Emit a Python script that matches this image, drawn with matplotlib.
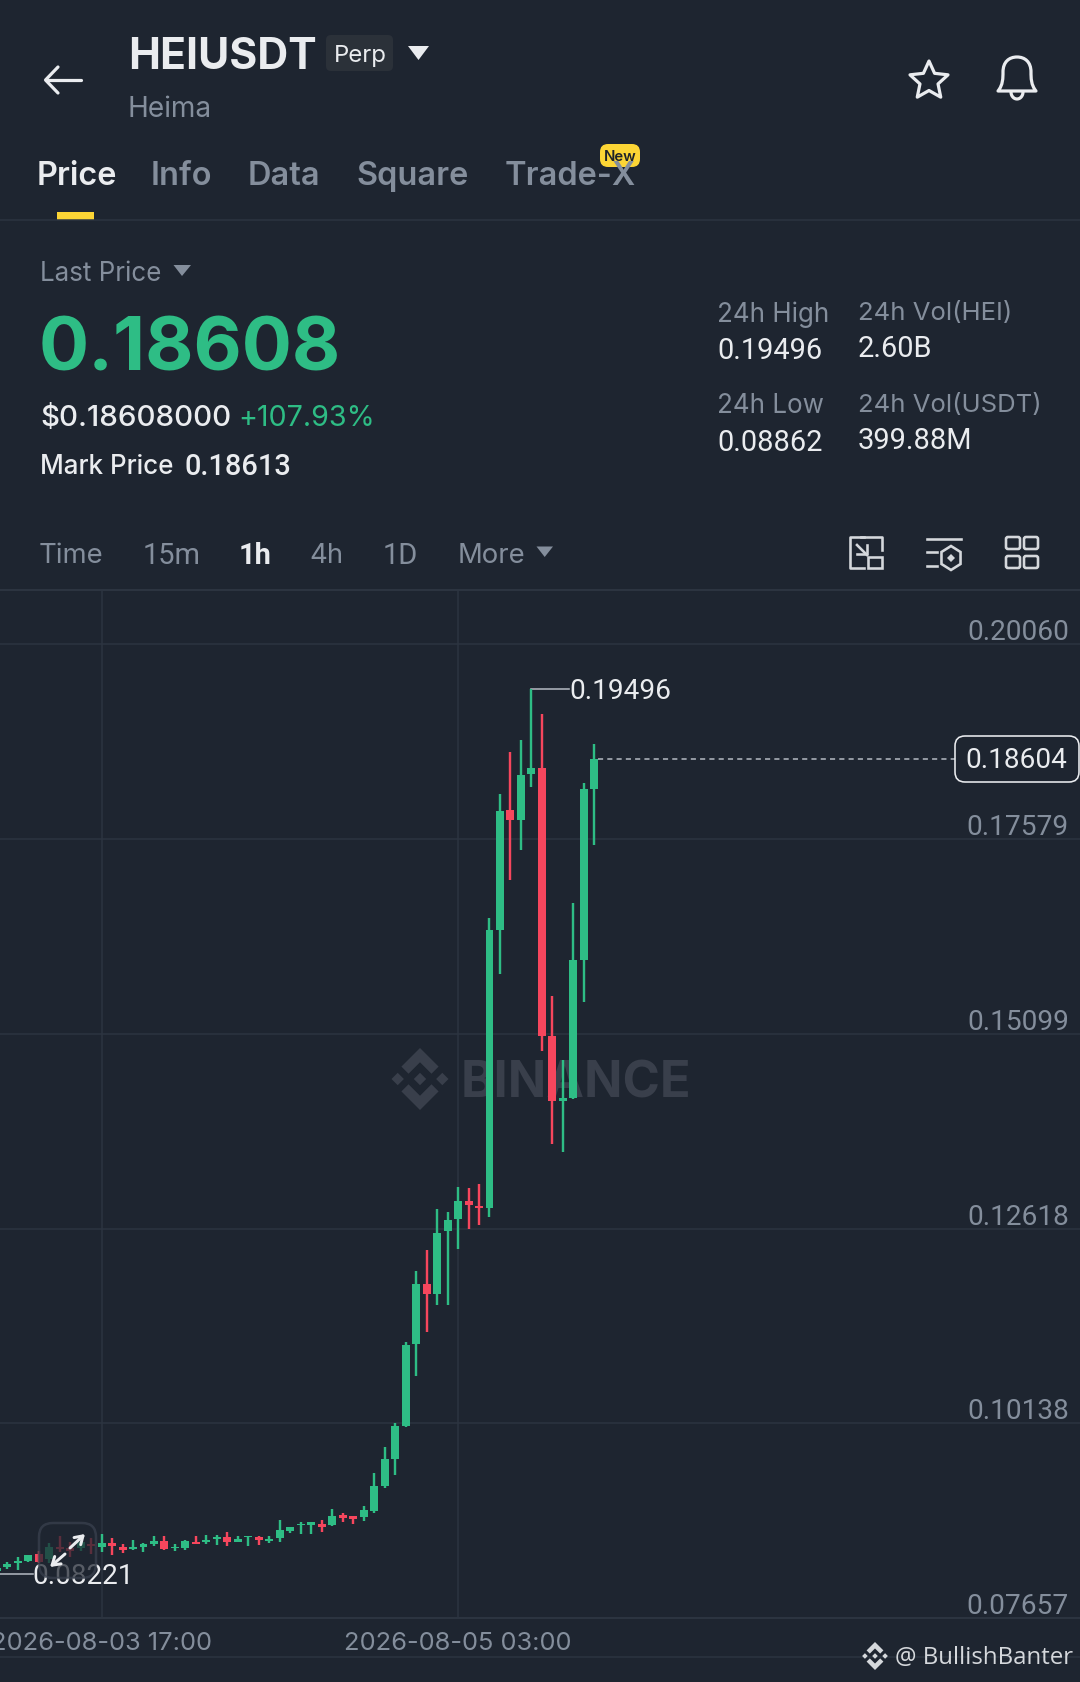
import matplotlib
matplotlib.use('Agg')
import matplotlib.pyplot as plt
from matplotlib.patches import FancyBboxPatch, Polygon, PathPatch, Rectangle
from matplotlib.path import Path
from matplotlib.transforms import ScaledTranslation
import numpy as np

BG = '#1E2530'
GRID = '#2C3440'
GREEN = '#2EBD85'
RED = '#F6465D'
GRAY = '#848E9C'
WHITE = '#EAECEF'
YELLOW = '#FCD535'
WATERMARK = '#393F4B'
NUM = ['Roboto', 'DejaVu Sans']

plt.rcParams['font.family'] = ['Inter', 'Roboto', 'DejaVu Sans']

# hourly candles, oldest first
opens = [0.08261, 0.08308, 0.08363, 0.08380, 0.08469, 0.08406, 0.08563, 0.08554, 0.08546, 0.08601,
         0.08567, 0.08614, 0.08563, 0.08537, 0.08567, 0.08597, 0.08635, 0.08546, 0.08546, 0.08627,
         0.08627, 0.08661, 0.08695, 0.08627, 0.08690, 0.08695, 0.08644, 0.08673, 0.08771, 0.08839,
         0.08843, 0.08852, 0.08839, 0.08966, 0.08958, 0.08941, 0.09026, 0.09340, 0.09688, 0.10104,
         0.11144, 0.11909, 0.11790, 0.12584, 0.12741, 0.12975, 0.12911, 0.12885, 0.16423, 0.17948,
         0.17825, 0.18407, 0.18483, 0.15077, 0.14249, 0.14279, 0.16046, 0.18220]
highs = [0.08300, 0.08376, 0.08440, 0.08461, 0.08516, 0.08618, 0.08703, 0.08631, 0.08673, 0.08673,
         0.08729, 0.08673, 0.08597, 0.08648, 0.08618, 0.08703, 0.08703, 0.08597, 0.08648, 0.08703,
         0.08712, 0.08716, 0.08750, 0.08703, 0.08707, 0.08707, 0.08699, 0.08907, 0.08798, 0.08881,
         0.08855, 0.08907, 0.09043, 0.08996, 0.08958, 0.09089, 0.09510, 0.09841, 0.10147, 0.11170,
         0.12074, 0.12346, 0.12864, 0.12826, 0.13144, 0.13132, 0.13183, 0.16572, 0.18152, 0.18691,
         0.18844, 0.19496, 0.19171, 0.15583, 0.14763, 0.16763, 0.18296, 0.18789]
lows = [0.08244, 0.08283, 0.08266, 0.08368, 0.08355, 0.08355, 0.08503, 0.08436, 0.08516, 0.08474,
        0.08499, 0.08461, 0.08486, 0.08525, 0.08495, 0.08580, 0.08529, 0.08508, 0.08529, 0.08601,
        0.08601, 0.08593, 0.08580, 0.08627, 0.08580, 0.08584, 0.08610, 0.08631, 0.08745, 0.08729,
        0.08729, 0.08754, 0.08830, 0.08881, 0.08860, 0.08898, 0.09000, 0.09319, 0.09480, 0.10087,
        0.10745, 0.11306, 0.11645, 0.11645, 0.12363, 0.12614, 0.12669, 0.12762, 0.15859, 0.17056,
        0.17447, 0.18249, 0.14882, 0.13702, 0.13600, 0.14266, 0.15511, 0.17502]
closes = [0.08300, 0.08351, 0.08389, 0.08461, 0.08372, 0.08563, 0.08539, 0.08516, 0.08624, 0.08580,
          0.08614, 0.08579, 0.08525, 0.08563, 0.08597, 0.08635, 0.08542, 0.08567, 0.08635, 0.08605,
          0.08656, 0.08686, 0.08627, 0.08665, 0.08703, 0.08652, 0.08669, 0.08775, 0.08822, 0.08856,
          0.08881, 0.08818, 0.08958, 0.08932, 0.08924, 0.09034, 0.09340, 0.09684, 0.10104, 0.11140,
          0.11909, 0.11790, 0.12567, 0.12733, 0.12975, 0.12915, 0.12877, 0.16419, 0.17939, 0.17821,
          0.18402, 0.18483, 0.15073, 0.14249, 0.14279, 0.16037, 0.18220, 0.18604]

price_ticks = [0.07657, 0.10138, 0.12618, 0.15099, 0.17579, 0.20060]
time_ticks = [10, 44]
time_labels = ['2026-08-03 17:00', '2026-08-05 03:00']
last_price = 0.18604
high_price = 0.19496
low_price = 0.08221

W, H = 1080, 1682
fig = plt.figure(figsize=(W / 100, H / 100), dpi=100, facecolor=BG)


def pt(px):
    return px * 0.72


def full_axes(zorder):
    a = fig.add_axes([0, 0, 1, 1], zorder=zorder)
    a.set_xlim(0, W)
    a.set_ylim(H, 0)
    a.axis('off')
    a.patch.set_alpha(0)
    return a


def binance_logo(a, cx, cy, s, color, z=1):
    top = [(0, -1), (0.6, -0.4), (0.37, -0.17), (0, -0.54), (-0.37, -0.17), (-0.6, -0.4)]
    bottom = [(x, -y) for x, y in top]
    parts = [top, bottom]
    for dx in (-0.72, 0, 0.72):
        parts.append([(dx, -0.2), (dx + 0.2, 0), (dx, 0.2), (dx - 0.2, 0)])
    for part in parts:
        a.add_patch(Polygon([(cx + x * s, cy + y * s) for x, y in part], closed=True,
                            fc=color, ec='none', zorder=z))


# watermark sits under the candles
back = full_axes(0)
binance_logo(back, 420, 1079, 31, WATERMARK)
back.text(461, 1084, 'BINANCE', color=WATERMARK, fontsize=pt(50.5), fontweight='bold', va='center', ha='left')

# chart, pixel limits of the plot area
top_px, bottom_px = 590, 1618
px_per_price = 194.75 / 0.02481
ax = fig.add_axes([0, 1 - bottom_px / H, 1, (bottom_px - top_px) / H], zorder=1)
ax.patch.set_alpha(0)
ax.set_ylim(0.07657, 0.20060 + (644.5 - top_px) / px_per_price)
spacing = 10.485
ax.set_xlim(3.3 / spacing, (W + 3.3) / spacing)

idx = np.arange(len(opens))
o, h, l, c = map(np.array, (opens, highs, lows, closes))
colors = [GREEN if cl >= op else RED for op, cl in zip(o, c)]
ax.vlines(idx, l, h, colors=colors, lw=pt(2.4), zorder=3)
ax.bar(idx, np.abs(c - o), bottom=np.minimum(o, c), width=0.76, color=colors, zorder=3)

ax.set_yticks(price_ticks)
ax.set_yticklabels([f'{v:.5f}' for v in price_ticks], color=GRAY, fontsize=pt(28), family=NUM, ha='right', va='bottom')
ax.yaxis.tick_right()
ax.tick_params(axis='y', length=0, pad=-pt(11))
ax.set_xticks(time_ticks)
ax.set_xticklabels(time_labels, color=GRAY, fontsize=pt(25.5))
ax.tick_params(axis='x', length=0, pad=pt(14))
ax.grid(True, color=GRID, lw=pt(1.5), zorder=1)
for name, spine in ax.spines.items():
    spine.set_visible(name in ('top', 'bottom'))
    spine.set_color(GRID)
    spine.set_linewidth(pt(2))
for lab in ax.get_yticklabels():
    lab.set_transform(lab.get_transform() + ScaledTranslation(0, -2 / 100, fig.dpi_scale_trans))

# last price dashed line
ax.plot([idx[-1] + 0.38, 100], [last_price, last_price], color='#AEB4BC', lw=pt(1.6), dashes=(3.2, 2.6), zorder=2)

# high and low labels
high_i = int(np.argmax(h))
ax.plot([high_i, high_i + 3.6], [high_price, high_price], color='#AEB4BC', lw=pt(1.6), zorder=2)
ax.annotate(f'{high_price:.5f}', (high_i + 3.6, high_price), xytext=(0, -pt(3)), textcoords='offset points',
            color=WHITE, fontsize=pt(28), family=NUM, va='center', ha='left')
ax.plot([0.3, 3.45], [low_price, low_price], color='#AEB4BC', lw=pt(1.6), zorder=2)
ax.annotate(f'{low_price:.5f}', (3.45, low_price), xytext=(0, -pt(3)), textcoords='offset points',
            color=WHITE, fontsize=pt(28), family=NUM, va='center', ha='left')

# everything of the app around the chart
ui = full_axes(2)

# current price box
ui.add_patch(FancyBboxPatch((962, 743), 110, 32, boxstyle='round,pad=7,rounding_size=10',
                            fc=BG, ec=WHITE, lw=pt(1.6), zorder=3))
ui.text(1067, 760, f'{last_price:.5f}', color=WHITE, fontsize=pt(28), family=NUM, ha='right', va='center', zorder=4)

# expand button over the candles
ui.add_patch(FancyBboxPatch((49, 1533), 37, 35, boxstyle='round,pad=10,rounding_size=14',
                            fc=BG, ec='#3A424F', alpha=0.72, lw=pt(2.5), zorder=3))
ui.annotate('', xy=(50, 1567), xytext=(65, 1554), zorder=4,
            arrowprops=dict(arrowstyle='->,head_length=0.55,head_width=0.35', color=WHITE, lw=pt(3), shrinkA=0, shrinkB=0))
ui.annotate('', xy=(85, 1534), xytext=(70, 1548), zorder=4,
            arrowprops=dict(arrowstyle='->,head_length=0.55,head_width=0.35', color=WHITE, lw=pt(3), shrinkA=0, shrinkB=0))

# header
ui.text(128, 57, 'HEIUSDT', color=WHITE, fontsize=pt(42.7), fontweight='bold', va='center')
ui.add_patch(FancyBboxPatch((330, 39), 59, 28, boxstyle='round,pad=4,rounding_size=5', fc='#2B3139', ec='none'))
ui.text(334, 56, 'Perp', color=WHITE, fontsize=pt(24), va='center')
ui.add_patch(Polygon([(408, 46), (429, 46), (418.5, 60)], fc=WHITE, ec='none'))
ui.text(128, 109, 'Heima', color=GRAY, fontsize=pt(28), va='center')
ui.plot([81, 46], [80, 80], color=WHITE, lw=pt(3.2), solid_capstyle='round')
ui.plot([58, 45.5, 58], [67, 80, 93], color=WHITE, lw=pt(3.2), solid_capstyle='round', solid_joinstyle='round')

angles = np.deg2rad(np.arange(10) * 36 - 90)
radii = np.where(np.arange(10) % 2 == 0, 20, 9.5)
ui.add_patch(Polygon(np.c_[929 + radii * np.cos(angles), 81 + radii * np.sin(angles)], closed=True,
                     fc='none', ec=WHITE, lw=pt(3.2), joinstyle='round'))
bell = Path([(998, 91), (1003, 85), (1003, 78), (1003, 72), (1003, 62), (1009, 57), (1017, 57),
             (1025, 57), (1031, 62), (1031, 72), (1031, 78), (1031, 85), (1036, 91), (998, 91)],
            [Path.MOVETO] + [Path.CURVE4] * 12 + [Path.CLOSEPOLY])
ui.add_patch(PathPatch(bell, fc='none', ec=WHITE, lw=pt(3.2), joinstyle='round'))
clapper = np.linspace(0, np.pi, 20)
ui.plot(1017 + 6 * np.cos(clapper), 92 + 7 * np.sin(clapper), color=WHITE, lw=pt(3.2))

# tabs
tab_names = ['Price', 'Info', 'Data', 'Square', 'Trade-X']
tab_x = [37, 151, 248, 356, 505]
for name, x in zip(tab_names, tab_x):
    ui.text(x, 176, name, color=WHITE if name == 'Price' else GRAY, fontsize=pt(32.5), fontweight='semibold', va='center')
ui.add_patch(FancyBboxPatch((604, 148), 32, 15, boxstyle='round,pad=4,rounding_size=8', fc=YELLOW, ec='none'))
ui.text(620, 157, 'New', color='#1E2329', fontsize=pt(15), fontweight='semibold', ha='center', va='center')
ui.add_patch(Rectangle((57, 212), 37, 7.5, fc=YELLOW, ec='none'))
ui.plot([0, W], [220, 220], color=GRID, lw=pt(1.5))

# price block
ui.text(40, 274, 'Last Price', color=GRAY, fontsize=pt(26), va='center')
ui.add_patch(Polygon([(173.5, 265), (191, 265), (182, 276)], fc=GRAY, ec='none'))
ui.text(39, 351, '0.18608', color=GREEN, fontsize=pt(74.5), fontweight='bold', va='center')
ui.text(40, 418, '$0.18608000', color=WHITE, fontsize=pt(29.5), fontweight='medium', va='center')
ui.text(238, 418, '+107.93%', color=GREEN, fontsize=pt(28.6), va='center')
ui.text(40, 467, 'Mark Price', color=WHITE, fontsize=pt(26), fontweight='medium', va='center')
ui.text(184, 467, '0.18613', color=WHITE, fontsize=pt(29), family=NUM, fontweight='medium', va='center')

ui.text(717, 315, '24h High', color=GRAY, fontsize=pt(26), va='center')
ui.text(717, 351, '0.19496', color=WHITE, fontsize=pt(29), family=NUM, va='center')
ui.text(717, 406, '24h Low', color=GRAY, fontsize=pt(26), va='center')
ui.text(717, 443, '0.08862', color=WHITE, fontsize=pt(29), family=NUM, va='center')
ui.text(858, 313, '24h Vol(HEI)', color=GRAY, fontsize=pt(25.7), va='center')
ui.text(858, 349, '2.60B', color=WHITE, fontsize=pt(29), family=NUM, va='center')
ui.text(858, 405, '24h Vol(USDT)', color=GRAY, fontsize=pt(25.7), va='center')
ui.text(858, 441, '399.88M', color=WHITE, fontsize=pt(29), family=NUM, va='center')

# interval row
interval_names = ['Time', '15m', '1h', '4h', '1D', 'More']
interval_x = [39, 143, 239, 309, 383, 458]
for name, x in zip(interval_names, interval_x):
    ui.text(x, 556, name, color=WHITE if name == '1h' else GRAY, fontsize=pt(29 if '1' in name else 27.5),
            family=NUM if '1' in name else None,
            fontweight='bold' if name == '1h' else 'normal', va='center')
ui.add_patch(Polygon([(536.5, 546.5), (553, 546.5), (544.7, 557)], fc=GRAY, ec='none'))

ICON = '#D5D8DC'
ui.plot([861, 882, 882], [537, 537, 550], color=ICON, lw=pt(2.6))
ui.plot([864, 850, 850, 864], [537, 537, 568, 568], color=ICON, lw=pt(2.6))
ui.add_patch(Rectangle((868, 557), 14, 11, fc='none', ec=ICON, lw=pt(2.6)))
ui.plot([857, 867], [545, 555], color=ICON, lw=pt(2.6))
ui.plot([857, 867, 867], [554, 554, 545], color=ICON, lw=pt(2.6))

ui.plot([927, 961], [539, 539], color=ICON, lw=pt(2.6))
ui.plot([927, 937], [552, 552], color=ICON, lw=pt(2.6))
ui.plot([927, 937], [566, 566], color=ICON, lw=pt(2.6))
hex_a = np.deg2rad(np.arange(6) * 60 - 90)
ui.add_patch(Polygon(np.c_[951 + 11 * np.cos(hex_a), 558 + 12 * np.sin(hex_a)], closed=True, fc='none', ec=ICON, lw=pt(2.6)))
ui.add_patch(Polygon([(951, 554), (955, 558), (951, 562), (947, 558)], fc=ICON, ec='none'))

for x in (1006, 1024):
    for y in (537, 556):
        ui.add_patch(FancyBboxPatch((x + 1, y + 1), 12, 10, boxstyle='round,pad=1,rounding_size=2', fc='none', ec=ICON, lw=pt(2.6)))

# footer
ui.plot([0, W], [1657, 1657], color=GRID, lw=pt(1.5))
binance_logo(ui, 875, 1656, 14, '#D5D8DC', z=3)
ui.text(895, 1658, '@ BullishBanter', color='#D5D8DC', fontsize=pt(24), va='center', family=['Open Sans', 'DejaVu Sans'], zorder=3)

fig.savefig('out.png', dpi=100, facecolor=BG)
